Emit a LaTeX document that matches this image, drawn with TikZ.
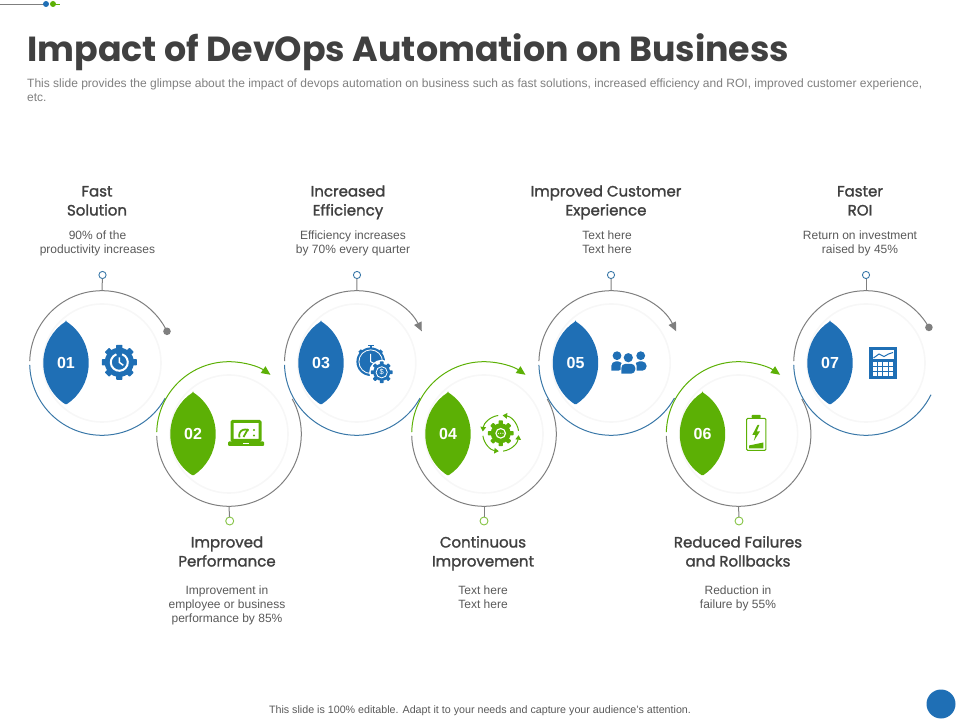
\documentclass[tikz,border=0pt]{standalone}
\usepackage{fontspec}
\setmainfont{Liberation Sans}
\newfontfamily\titlef{Poppins}[BoldFont={* Bold}]
\newfontfamily\headf{Poppins}[FakeBold=1.6]
\usetikzlibrary{arrows.meta}
\definecolor{dblue}{HTML}{1F6FB5}
\definecolor{dgreen}{HTML}{5CB005}
\definecolor{dgray}{HTML}{7F7F7F}
\definecolor{arcblue}{HTML}{3A78A8}
\definecolor{ringc}{HTML}{F7F7F7}
\definecolor{titlec}{HTML}{404040}
\definecolor{bodyc}{HTML}{595959}
\tikzset{
  x=1pt,y=1pt,
  ringnode/.style={circle,minimum size=144.6pt,inner sep=0pt,outer sep=0pt},
  arcline/.style={line width=1pt},
  pin/.style={circle,minimum size=7.2pt,inner sep=0pt,outer sep=0pt,fill=white,line width=0.9pt},
  stub/.style={draw=dgray,line width=1pt},
  numtext/.style={text=white,font=\fontsize{16}{18}\selectfont\bfseries,inner sep=0pt},
  headtext/.style={text=titlec,align=center,inner sep=0pt,font=\fontsize{15}{19}\selectfont\headf},
  bodytext/.style={text=bodyc,align=center,inner sep=0pt,font=\fontsize{12}{14}\selectfont},
  arrowtip/.style={-{Triangle[length=9pt,width=8pt]}}
}
\newcommand\lensshape[3]{%
  \fill[#1,rounded corners=0.8pt] (#2,#3+41.7) arc[start angle=57.2,end angle=-57.2,radius=49.6pt]
    arc[start angle=237.2,end angle=122.8,radius=49.6pt] -- cycle;}
\newcommand\gearshape[7]{%
  \fill[#1] (#2,#3) circle (#4 pt);
  \pgfmathsetmacro\gstep{360/#7}
  \foreach \k in {1,...,#7}{
    \pgfmathsetmacro\ga{\k*\gstep}
    \fill[#1,rotate around={\ga:(#2,#3)},rounded corners=0.6pt] (#2+#4-1,#3-#6) rectangle (#2+#4+#5,#3+#6);
  }}
\newcommand\personshape[6]{%
  \fill[dblue] (#1,#2) circle (#3 pt);
  \fill[dblue,rounded corners=4.2pt] (#1-#4,#6) -- (#1-#4,#5) -- (#1+#4,#5) -- (#1+#4,#6) [sharp corners] -- cycle;}
\newcommand\linesT[2]{\strut #1\\\strut #2}
\newcommand\linesH[3]{\strut #1\\\strut #2\\\strut #3}
\begin{document}
\begin{tikzpicture}
\useasboundingbox (0,0) rectangle (960,720);
% top-left ornament
\coordinate (ornA) at (0,716);
\coordinate (ornB) at (60,716);
\draw[dgray,line width=0.9pt] (ornA) -- (44,716);
\draw[dgreen,line width=0.9pt] (52,716) -- (ornB);
\fill[dblue] (46,716) circle (3pt);
\fill[dgreen] (53,716) circle (3pt);
% title
\node[anchor=base west,inner sep=0pt,text=titlec] (title) at (27,658)
  {\resizebox{762pt}{!}{\titlef\bfseries\fontsize{34}{40}\selectfont Impact of DevOps Automation on Business}};
\node[anchor=base west,inner sep=0pt,text=dgray] (sub1) at (27,632)
  {\resizebox{895pt}{!}{\fontsize{12}{14}\selectfont This slide provides the glimpse about the impact of devops automation on business such as fast solutions, increased efficiency and ROI, improved customer experience,}};
\node[anchor=base west,inner sep=0pt,text=dgray,font=\fontsize{12}{14}\selectfont] (sub2) at (27,618) {etc.};

% rings
\foreach \i/\cx/\cy in {1/102/357,2/229/286,3/356.8/357,4/484/286,5/611.2/357,6/738.6/286,7/866/357}{
  \node[ringnode] (c\i) at (\cx,\cy) {};
  \draw[ringc,line width=1.6pt] (\cx,\cy) circle (59pt);
}
% odd: grey top arc, blue bottom arc
\draw[dgray,arcline] ([shift={(178.5:72.3pt)}]c1.center) arc[start angle=178.5,end angle=28,radius=72.3pt];
\draw[dgray,arcline,arrowtip] ([shift={(178.5:72.3pt)}]c3.center) arc[start angle=178.5,end angle=26,radius=72.3pt];
\draw[dgray,arcline,arrowtip] ([shift={(178.5:72.3pt)}]c5.center) arc[start angle=178.5,end angle=26,radius=72.3pt];
\draw[dgray,arcline] ([shift={(178.5:72.3pt)}]c7.center) arc[start angle=178.5,end angle=31,radius=72.3pt];
\foreach \i in {1,3,5}{
  \draw[arcblue,arcline] ([shift={(181.5:72.3pt)}]c\i.center) arc[start angle=181.5,end angle=331,radius=72.3pt];
}
\draw[arcblue,arcline] ([shift={(181.5:72.3pt)}]c7.center) arc[start angle=181.5,end angle=334,radius=72.3pt];
% even: green top arc, grey bottom arc
\foreach \i in {2,4,6}{
  \draw[dgreen,arcline,arrowtip] ([shift={(178.5:72.3pt)}]c\i.center) arc[start angle=178.5,end angle=55,radius=72.3pt];
  \draw[dgray,arcline] ([shift={(181.5:72.3pt)}]c\i.center) arc[start angle=181.5,end angle=389,radius=72.3pt];
}
% end dots
\coordinate (dot1) at ([shift={(26:72.3pt)}]c1.center);
\coordinate (dot7) at ([shift={(29.5:72.3pt)}]c7.center);
\fill[dgray] (dot1) circle (3.8pt);
\fill[dgray] (dot7) circle (3.8pt);
% pins
\foreach \i/\x in {1/102.5,3/357,5/611,7/866}{
  \node[pin,draw=arcblue] (p\i) at (\x,445) {};
  \draw[stub] (c\i.north) -- (p\i);
}
\foreach \i/\x in {2/229.7,4/484,6/739}{
  \node[pin,draw=dgreen!75!white,minimum size=8pt] (p\i) at (\x,199) {};
  \draw[stub] (c\i.south) -- (p\i);
}
% lenses and numbers
\foreach \n/\x/\y/\c in {01/66/357/dblue,02/193/286/dgreen,03/321/357/dblue,04/448/286/dgreen,05/575.5/357/dblue,06/702.5/286/dgreen,07/830/357/dblue}{
  \lensshape{\c}{\x}{\y}
  \node[numtext] (n\n) at (\x,\y) {\n};
}
% icon 1: gear with clock
\gearshape{dblue}{119.3}{357.7}{14.6}{2.9}{3.1}{8}
\draw[white,line width=2pt] (119.3+2.9,357.7+8) arc[start angle=70,end angle=-250,radius=8.5pt];
\draw[white,line width=1.5pt] (119.3,357.7+5) -- (119.3,357.7) -- (119.3+4,357.7-3);
% icon 2: laptop
\draw[dgreen,line width=3pt,rounded corners=0.8pt] (232,298.5) rectangle (260,279.5);
\fill[dgreen,rounded corners=1pt] (228,278.5) rectangle (264,274);
\fill[white] (243,276.7) rectangle (249,275.7);
\draw[dgreen,line width=1.8pt] (239.5,282.5) arc[start angle=200,end angle=55,radius=6pt];
\draw[dgreen,line width=1.8pt] (243.5,283) -- (248,291);
\fill[dgreen] (254,290) circle (1.1pt) (254,284.5) circle (1.1pt);
% icon 3: stopwatch and small gear
\fill[dblue] (367.5,375) rectangle (373.5,373.5);
\fill[dblue] (369.5,373.5) rectangle (371.5,371);
\fill[dblue,rotate around={45:(370.7,358.3)}] (369,372) rectangle (372.5,374);
\fill[dblue,rotate around={-45:(370.7,358.3)}] (369,372) rectangle (372.5,374);
\fill[dblue] (370.7,358.3) circle (14.3pt);
\draw[white,line width=0.8pt] (370.7,358.3) circle (11.8pt);
\draw[white,line width=1pt] (370.7,366) -- (370.7,358.3) -- (375,356);
\fill[white] (381.7,347.7) circle (12.5pt);
\gearshape{dblue}{381.7}{347.7}{8.5}{2.4}{1.8}{8}
\draw[white,line width=0.8pt] (381.7,347.7) circle (5.6pt);
\node[text=white,inner sep=0pt,font=\fontsize{7.5}{8}\selectfont] (dollar) at (381.7,347.7) {\$};
% icon 4: gear and rotating arrows
\gearshape{dgreen}{500.7}{286.7}{10}{2.8}{2.2}{8}
\fill[white] (500.7,286.7) circle (5.4pt);
\fill[dgreen] (500.7,286.7) circle (4pt);
\fill[white] (498.4,286.7) circle (0.6pt) (500.7,286.7) circle (0.6pt) (503,286.7) circle (0.6pt);
\foreach \a in {0,90,180,270}{
  \draw[dgreen,line width=1pt,-{Triangle[length=4.5pt,width=5.5pt]},rotate around={\a:(500.7,286.7)}]
    ([shift={(8:18pt)}]500.7,286.7) arc[start angle=8,end angle=84,radius=18pt];
}
% icon 5: people
\personshape{617}{364.3}{4.4}{5.6}{358.5}{349.3}
\personshape{640.7}{364.3}{4.4}{5.8}{358.5}{349.3}
\fill[white,rounded corners=3.2pt] (620.6,345.6) rectangle (636.6,357.5);
\fill[white] (628.3,362.3) circle (5.6pt);
\personshape{628.3}{362.3}{4.6}{7}{356.2}{346.3}
% icon 6: battery
\fill[dgreen,rounded corners=0.6pt] (751.7,302) rectangle (760.7,305);
\draw[dgreen,line width=1pt,rounded corners=1.2pt] (746.6,301.7) rectangle (765.8,269.5);
\fill[dgreen] (749,271.5) -- (763.3,271.5) -- (763.3,277.5) -- (749,274.5) -- cycle;
\fill[dgreen] (757.5,295) -- (752.3,285) -- (755.4,285) -- (753.8,279) -- (760,288.6) -- (756.8,288.6) -- (759.3,295) -- cycle;
% icon 7: calculator
\fill[dblue] (869,373) rectangle (897,341.3);
\fill[white] (872.7,370) rectangle (893.7,360.5);
\draw[dblue,line width=1pt] (873.5,362) -- (879,366) -- (884,363.5) -- (888.5,366) -- (893,367.5);
\foreach \ro in {0,1,2}{
  \foreach \co in {0,1,2,3}{
    \fill[white] (872.7+5.35*\co,343.7+5*\ro) rectangle ++(4.3,4);
  }
}
% headings
\node[headtext] (h1) at (97,517.8) {\linesT{Fast}{Solution}};
\node[headtext] (h3) at (348,517.8) {\linesT{Increased}{Efficiency}};
\node[headtext] (h5) at (606,517.8) {\linesT{Improved Customer}{Experience}};
\node[headtext] (h7) at (860,517.8) {\linesT{Faster}{ROI}};
\node[headtext] (h2) at (227,166.8) {\linesT{Improved}{Performance}};
\node[headtext] (h4) at (483,166.8) {\linesT{Continuous}{Improvement}};
\node[headtext] (h6) at (738,166.8) {\linesT{Reduced Failures}{and Rollbacks}};
% body
\node[bodytext] (b1) at (97.5,476.5) {\linesT{90\% of the}{productivity increases}};
\node[bodytext] (b3) at (353,476.5) {\linesT{Efficiency increases}{by 70\% every quarter}};
\node[bodytext] (b5) at (607,476.5) {\linesT{Text here}{Text here}};
\node[bodytext] (b7) at (860,476.5) {\linesT{Return on investment}{raised by 45\%}};
\node[bodytext] (b2) at (227,114.5) {\linesH{Improvement in}{employee or business}{performance by 85\%}};
\node[bodytext] (b4) at (483,121.5) {\linesT{Text here}{Text here}};
\node[bodytext] (b6) at (738,121.5) {\linesT{Reduction in}{failure by 55\%}};
% footer
\node[inner sep=0pt,text=bodyc,font=\fontsize{10.7}{12}\selectfont] (foot) at (480,9.5) {This slide is 100\% editable. Adapt it to your needs and capture your audience's attention.};
\node[circle,fill=dblue,minimum size=29pt,inner sep=0pt] (corner) at (941,16) {};
\end{tikzpicture}
\end{document}
